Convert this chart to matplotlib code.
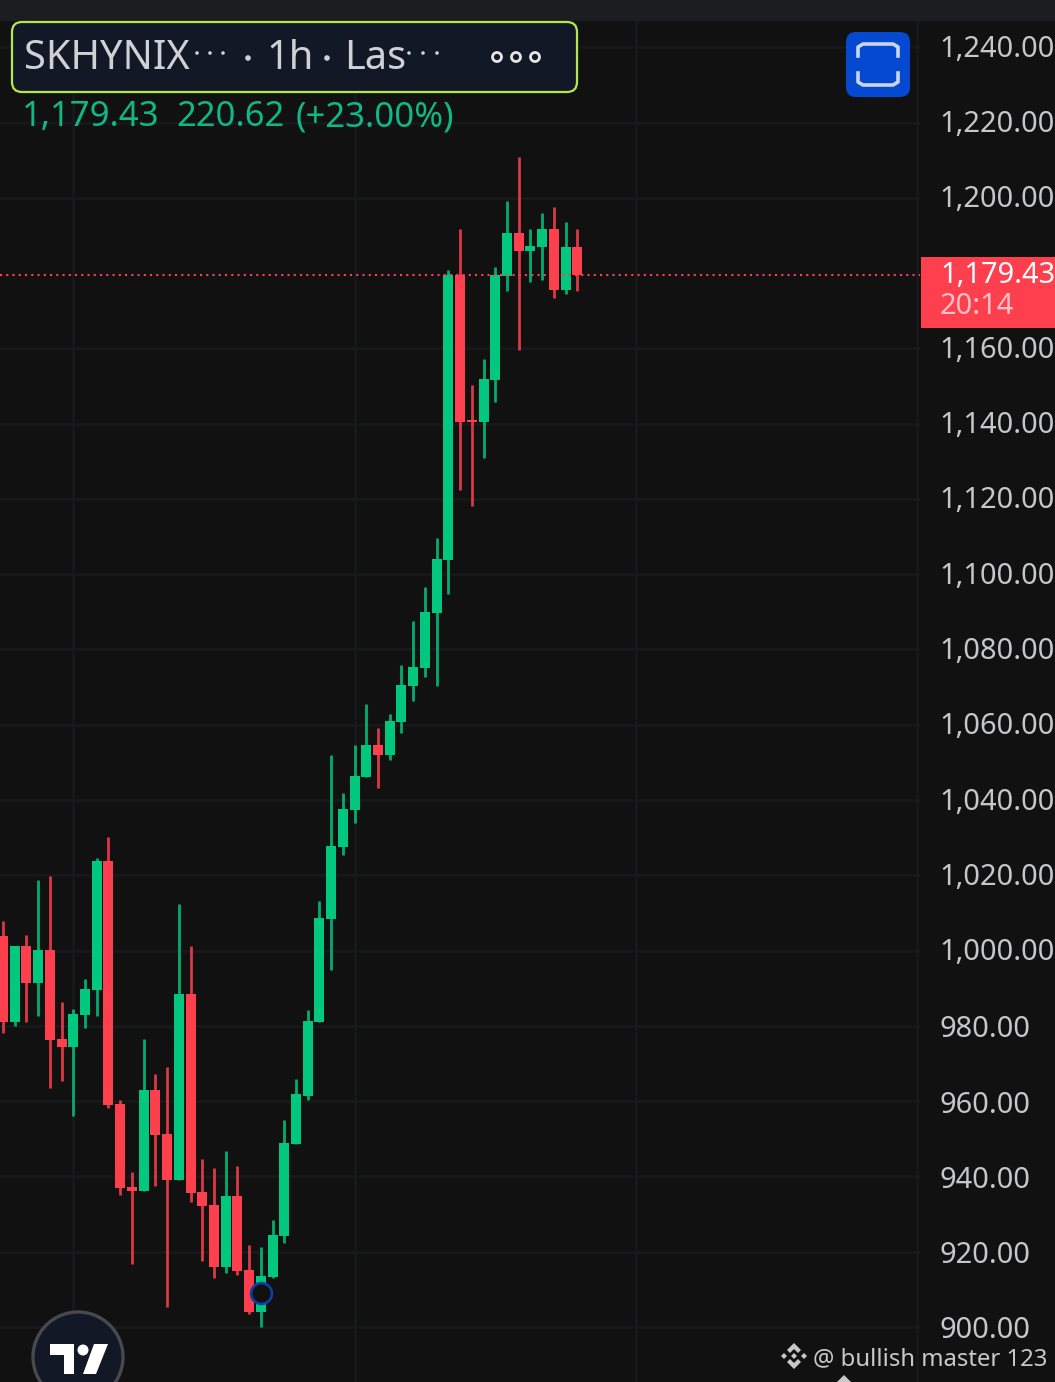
import matplotlib
matplotlib.use('Agg')
import matplotlib.pyplot as plt
from matplotlib.patches import FancyBboxPatch, Circle, Polygon, Rectangle
from matplotlib.transforms import ScaledTranslation

# hourly candles
opens = [1003.9, 980.9, 1001.2, 991.4, 1000.2, 976.5, 974.4, 982.9, 989.5, 1023.8,
         959.2, 937.2, 936.1, 963.0, 951.3, 939.1, 988.5, 935.9, 932.4, 915.9,
         934.8, 915.1, 904.0, 913.3, 924.2, 948.6, 961.4, 981.0, 1008.4, 1027.5,
         1037.4, 1046.1, 1054.6, 1052.0, 1060.7, 1070.3, 1075.1, 1089.7, 1103.8, 1179.5,
         1141.0, 1140.4, 1151.6, 1179.2, 1190.7, 1185.9, 1186.9, 1191.7, 1175.5, 1186.9]
closes = [980.9, 1001.2, 991.4, 1000.2, 976.3, 974.4, 983.1, 989.8, 1023.8, 959.0,
          936.9, 936.1, 963.0, 951.0, 939.1, 988.5, 935.6, 932.1, 915.9, 934.8,
          914.9, 904.0, 913.6, 924.4, 948.9, 961.9, 981.3, 1008.7, 1027.8, 1037.6,
          1046.4, 1054.6, 1052.0, 1061.0, 1070.6, 1075.3, 1090.0, 1104.0, 1179.5, 1140.4,
          1140.4, 1151.9, 1179.5, 1190.7, 1185.9, 1187.2, 1191.7, 1175.5, 1186.9, 1179.43]
highs = [1007.9, 1001.2, 1004.1, 1018.8, 1019.8, 986.3, 984.5, 992.5, 1024.6, 1030.2,
         960.3, 941.2, 976.5, 967.2, 969.1, 1012.4, 1001.2, 944.6, 942.2, 946.8,
         942.8, 921.8, 921.3, 928.4, 955.0, 965.9, 984.2, 1013.2, 1052.0, 1041.9,
         1054.6, 1065.5, 1059.1, 1062.9, 1075.9, 1087.6, 1096.6, 1109.6, 1180.8, 1191.7,
         1150.3, 1157.2, 1181.6, 1199.2, 1210.8, 1191.7, 1196.0, 1197.6, 1193.6, 1191.7]
lows = [978.2, 980.1, 981.1, 982.7, 963.6, 965.4, 956.1, 979.5, 982.7, 958.3,
        935.1, 916.7, 936.1, 937.4, 905.3, 939.1, 933.2, 917.5, 913.0, 914.4,
        913.8, 903.5, 900.0, 913.0, 922.3, 948.6, 960.3, 981.0, 994.8, 1025.4,
        1033.9, 1046.1, 1043.2, 1050.6, 1057.8, 1066.3, 1072.7, 1070.4, 1094.7, 1122.4,
        1118.1, 1130.9, 1145.7, 1175.2, 1159.6, 1177.6, 1178.2, 1173.4, 1174.4, 1175.2]
price_ticks = [900, 920, 940, 960, 980, 1000, 1020, 1040, 1060, 1080, 1100, 1120,
               1140, 1160, 1200, 1220, 1240]
time_ticks = [6, 30, 54, 78]
last_price = 1179.43

BG = '#111112'
GRID = '#18191a'
UP = '#02c77f'
DOWN = '#fe404e'
FONT = ['Noto Sans', 'DejaVu Sans']

plt.rcParams['font.family'] = FONT
W, H = 1055, 1382
fig = plt.figure(figsize=(W / 100, H / 100), dpi=100, facecolor=BG)

# price pane, 920 px wide, right axis labels live outside of it
ax = fig.add_axes([0, 0, 920 / W, 1])
ax.set_facecolor(BG)
px_per_bar = 11.72
px_per_unit = 3.764
ax.set_xlim(-3 / px_per_bar, (920 - 3) / px_per_bar)
ax.set_ylim(900 - (1382 - 1327) / px_per_unit, 900 + 1327 / px_per_unit)
for s in ax.spines.values():
    s.set_visible(False)
ax.yaxis.tick_right()
ax.set_yticks(price_ticks)
ax.set_yticklabels([f'{p:,.2f}' for p in price_ticks], fontsize=20.9, color='#c6c7c9')
ax.tick_params(axis='y', length=0, pad=14)
ax.set_xticks(time_ticks)
ax.tick_params(axis='x', length=0, labelbottom=False)
ax.grid(True, color=GRID, linewidth=1.9)
ax.set_axisbelow(True)

# labels with a comma sit a bit higher in the original
for lab, p in zip(ax.get_yticklabels(), price_ticks):
    dy = 1.5 if p >= 1000 else -0.5
    lab.set_transform(lab.get_transform() + ScaledTranslation(0, dy / 100, fig.dpi_scale_trans))

for i in range(len(opens)):
    col = UP if closes[i] >= opens[i] else DOWN
    ax.vlines(i, lows[i], highs[i], color=col, linewidth=2.0, alpha=0.85, zorder=2)
    ax.bar(i, abs(closes[i] - opens[i]), bottom=min(opens[i], closes[i]), width=0.85,
           color=col, linewidth=0, zorder=3)

ax.axhline(last_price, color=DOWN, linewidth=1.5, linestyle=(0, (1, 2)), zorder=4)

# marker on the low candle
ax.plot([22], [909.0], 'o', ms=15, mfc=BG, mec='#0d3fa6', mew=1.9, zorder=5)

# overlay in pixel coordinates for the app chrome
ov = fig.add_axes([0, 0, 1, 1])
ov.set_xlim(0, W)
ov.set_ylim(H, 0)
ov.axis('off')
ov.patch.set_alpha(0)

ov.add_patch(Rectangle((0, 0), W, 21, fc='#1c1d1f', ec='none'))

# last price tag
ov.add_patch(Rectangle((921, 257), 134, 71, fc='#fe404e', ec='none'))
ov.text(940, 275, '1,179.43', fontsize=20.9, color='white', va='center', ha='left')
ov.text(940, 306, '20:14', fontsize=20.9, color='#ffc2c6', va='center', ha='left')

# title box
ov.add_patch(FancyBboxPatch((18, 28), 553, 58, boxstyle='round,pad=6,rounding_size=10',
                            fc='#131826', ec='#b3e84c', lw=1.6))
title_col = '#cfd1d4'
ov.text(24, 69, 'SKHYNIX', fontsize=28.6, color=title_col, ha='left', va='baseline')
ov.text(266, 69, '1h', fontsize=28.6, color=title_col, ha='left', va='baseline')
ov.text(344, 69, 'Las', fontsize=28.6, color=title_col, ha='left', va='baseline')
for x0 in [197, 210, 223, 409, 423, 437]:
    ov.add_patch(Circle((x0, 53), 1.8, fc=title_col, ec='none'))
for x0 in [248, 327]:
    ov.add_patch(Circle((x0, 58), 2.8, fc=title_col, ec='none'))
for x0 in [497, 516, 535]:
    ov.add_patch(Circle((x0, 57), 4.5, fc='none', ec='#e4e5e7', lw=2))

ov.text(22, 126, '1,179.43', fontsize=25, color='#10b981', ha='left', va='baseline')
ov.text(176, 126, '220.62', fontsize=25, color='#10b981', ha='left', va='baseline')
ov.text(296, 126, '(+23.00%)', fontsize=25, color='#10b981', ha='left', va='baseline')

# fullscreen button
ov.add_patch(FancyBboxPatch((853, 39), 50, 51, boxstyle='round,pad=7,rounding_size=10',
                            fc='#0549d1', ec='none'))
ov.plot([858, 858, 863, 893, 898, 898], [56, 47, 44, 44, 47, 56], color='#c9d4ee', lw=2.6)
ov.plot([858, 858, 863, 893, 898, 898], [73, 82, 85, 85, 82, 73], color='#c9d4ee', lw=2.6)

# tradingview badge
ov.add_patch(Circle((78, 1357), 45, fc='#131826', ec='#48494d', lw=2.4))
ov.add_patch(Polygon([(50, 1344), (74, 1344), (74, 1374), (64, 1374), (64, 1355), (50, 1355)],
                     fc='white', ec='none'))
ov.add_patch(Circle((83, 1350), 5.5, fc='white', ec='none'))
ov.add_patch(Polygon([(94, 1344), (108, 1344), (96, 1374), (83, 1374)], fc='white', ec='none'))

# watermark
ov.add_patch(Polygon([(794, 1343), (801, 1350), (798, 1353), (794, 1349), (790, 1353), (787, 1350)],
                     fc='#c8c8c8', ec='none'))
ov.add_patch(Polygon([(794, 1369), (801, 1362), (798, 1359), (794, 1363), (790, 1359), (787, 1362)],
                     fc='#c8c8c8', ec='none'))
ov.add_patch(Polygon([(794, 1353), (797, 1356), (794, 1359), (791, 1356)], fc='#c8c8c8', ec='none'))
ov.add_patch(Polygon([(784, 1353), (787, 1356), (784, 1359), (781, 1356)], fc='#c8c8c8', ec='none'))
ov.add_patch(Polygon([(804, 1353), (807, 1356), (804, 1359), (801, 1356)], fc='#c8c8c8', ec='none'))
ov.text(813, 1365, '@ bullish master 123', fontsize=17.2, color='#c8c8c8', ha='left', va='baseline')
ov.add_patch(Polygon([(844, 1375), (851, 1382), (837, 1382)], fc='#c8c8c8', ec='none'))

fig.savefig('out.png', dpi=100, facecolor=BG)
